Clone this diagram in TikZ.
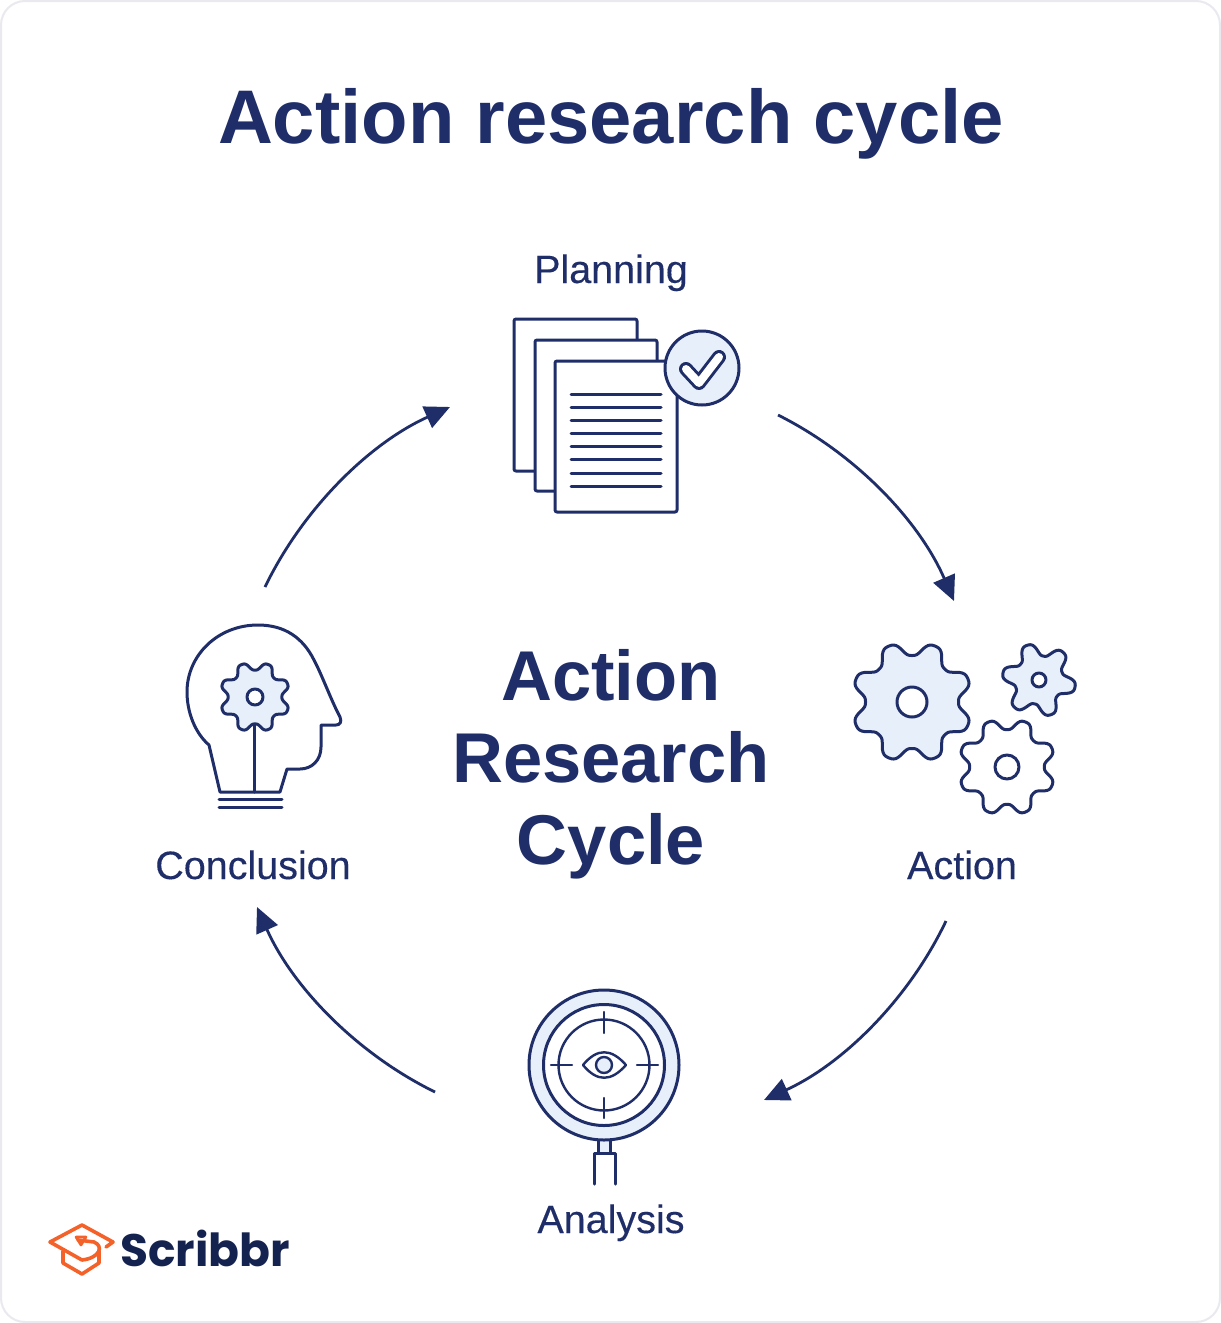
\documentclass[tikz,border=0pt]{standalone}
\usepackage{fontspec}
\setmainfont{Liberation Sans}
\newfontfamily\logofont{Poppins}
\newfontfamily\labelfont[FakeBold=0.3]{Liberation Sans}
\usetikzlibrary{arrows.meta}
\definecolor{navyInk}{HTML}{1F2E68}
\definecolor{logoInk}{HTML}{14224F}
\definecolor{paleBlue}{HTML}{E7F0FA}
\definecolor{frameGrey}{HTML}{E9E9EF}
\definecolor{capOrange}{HTML}{F4622A}
\tikzset{>={Triangle[length=25pt,width=23pt]}}
\tikzset{
  frameBox/.style={draw=frameGrey,line width=2pt,fill=white,rounded corners=24pt},
  iconLine/.style={draw=navyInk,line width=3pt,line join=round,line cap=round},
  iconFill/.style={iconLine,fill=paleBlue},
  iconHole/.style={iconLine,fill=white},
  pageBox/.style={iconHole,rounded corners=2pt},
  cycleLink/.style={draw=navyInk,line width=2.8pt,->},
  capLine/.style={draw=capOrange,line width=3.6pt,line join=round,line cap=round},
  titleText/.style={text=navyInk,font=\fontsize{76}{80}\selectfont\bfseries,anchor=base},
  centreText/.style={text=navyInk,font=\fontsize{70.5}{82}\selectfont\bfseries,align=center},
  stepLabel/.style={text=navyInk,font=\fontsize{39.5}{42}\selectfont\labelfont,anchor=base},
  logoText/.style={text=logoInk,font=\fontsize{45.5}{50}\selectfont\logofont\bfseries}
}
% x, y, mean radius, lobe depth, lobes, turn, style
\newcommand{\gearShape}[7]{
  \draw[#7] plot[variable=\t,domain=0:360,samples=181]
    ({#1+(#3+#4*(cos(#5*(\t-#6))-0.09*cos(3*#5*(\t-#6))))*cos(\t)},
     {#2-(#3+#4*(cos(#5*(\t-#6))-0.09*cos(3*#5*(\t-#6))))*sin(\t)}) -- cycle;
}
\begin{document}
\begin{tikzpicture}[x=1pt,y=-1pt]
  \useasboundingbox (0,0) rectangle (1221,1323);
  \draw[frameBox] (1,1) rectangle (1220,1322);

  \node (title) [titleText] at (611,143) {Action research cycle};
  \node (centre) [centreText] at (611,764) {Action\\Research\\Cycle};

  \node (planning) [stepLabel] at (611,283) {Planning};
  \node (action) [stepLabel] at (962,879) {Action};
  \node (analysis) [stepLabel] at (611,1233) {Analysis};
  \node (conclusion) [stepLabel] at (253,879) {Conclusion};

  % planning icon
  \draw[pageBox] (514,319) rectangle (637,471);
  \draw[pageBox] (535,340) rectangle (657,491);
  \draw[pageBox] (555,361) rectangle (677,512);
  \foreach \y in {394,407,420,433,446,459,473,486}
    \draw[iconLine] (571,\y) -- (661,\y);
  \draw[iconFill] (702,368) circle (37);
  \draw[draw=navyInk,line width=14pt,line cap=round,line join=round] (686,369) -- (699,383) -- (719,357);
  \draw[draw=white,line width=8pt,line cap=round,line join=round] (686,369) -- (699,383) -- (719,357);

  % action icon
  \gearShape{912}{702}{53.5}{7.7}{8}{22.5}{iconFill}
  \draw[iconHole] (912,702) circle (15);
  \gearShape{1007}{767}{43}{6.2}{8}{22.5}{iconHole}
  \draw[iconHole] (1007,767) circle (12);
  \gearShape{1039}{680}{30.5}{6.8}{6}{-11}{iconFill}
  \draw[iconHole] (1039,680) circle (7);

  % analysis icon
  \draw[iconFill] (598,1139) rectangle (610,1153);
  \draw[iconLine] (594,1184) -- (594,1153) -- (615,1153) -- (615,1184);
  \draw[iconFill] (604,1065) circle (75);
  \draw[iconHole] (604,1065) circle (60.5);
  \draw[iconLine,line width=2.4pt] (604,1065) circle (45.5);
  \draw[iconLine,line width=2.4pt] (604,1012) -- (604,1033) (604,1098) -- (604,1118)
    (551,1065) -- (572,1065) (637,1065) -- (658,1065);
  \draw[iconLine,line width=2.4pt] (583,1065) .. controls (597,1048) and (611,1048) .. (626,1065)
    .. controls (611,1082) and (597,1082) .. (583,1065) -- cycle;
  \draw[iconFill,line width=2.4pt] (604,1065) circle (8);

  % conclusion icon
  \draw[iconLine] (220,792) -- (209,745) .. controls (195,733) and (187,712) .. (187,692)
    .. controls (187,655) and (218,625) .. (258,625)
    .. controls (285,625) and (303,638) .. (314,660)
    .. controls (322,675) and (331,700) .. (340,717)
    .. controls (342,722) and (340,725) .. (336,725)
    -- (321,725) -- (321,747) .. controls (321,760) and (312,769) .. (300,769)
    -- (287,769) -- (280,792) -- cycle;
  \draw[iconLine] (254.5,792) -- (254.5,725);
  \draw[iconLine] (219,799) -- (282,799) (219,807) -- (282,807);
  \gearShape{255}{697}{31}{4.5}{8}{22.5}{iconFill}
  \draw[iconHole] (255,697) circle (8);

  % cycle arrows
  \coordinate (planOut) at (778,415);
  \coordinate (actionIn) at (954,601);
  \coordinate (actionOut) at (946,921);
  \coordinate (analysisIn) at (764,1100);
  \coordinate (analysisOut) at (435,1092);
  \coordinate (conclusionIn) at (257,907);
  \coordinate (conclusionOut) at (265,587);
  \coordinate (planIn) at (450,407);
  \path
    (planOut) edge [cycleLink,bend right=-20,looseness=.87] (actionIn)
    (actionOut) edge [cycleLink,bend right=-20,looseness=.87] (analysisIn)
    (analysisOut) edge [cycleLink,bend right=-20,looseness=.87] (conclusionIn)
    (conclusionOut) edge [cycleLink,bend right=-20,looseness=.87] (planIn);

  % logo
  \node (logo) [logoText,anchor=base west,inner sep=0pt] at (120,1266) {Scribbr};
  \draw[capLine] (106,1247) -- (113,1242) -- (82,1225) -- (50,1242) -- (82,1260)
    .. controls (100,1258) and (104,1246) .. (94,1242) -- (78,1240);
  \draw[capLine] (63,1251) -- (63,1263) -- (82,1274) -- (99,1263) -- (99,1251);
  \draw[capLine,line width=2.6pt] (76,1237) -- (86,1237) -- (81,1245) -- cycle;
\end{tikzpicture}
\end{document}
